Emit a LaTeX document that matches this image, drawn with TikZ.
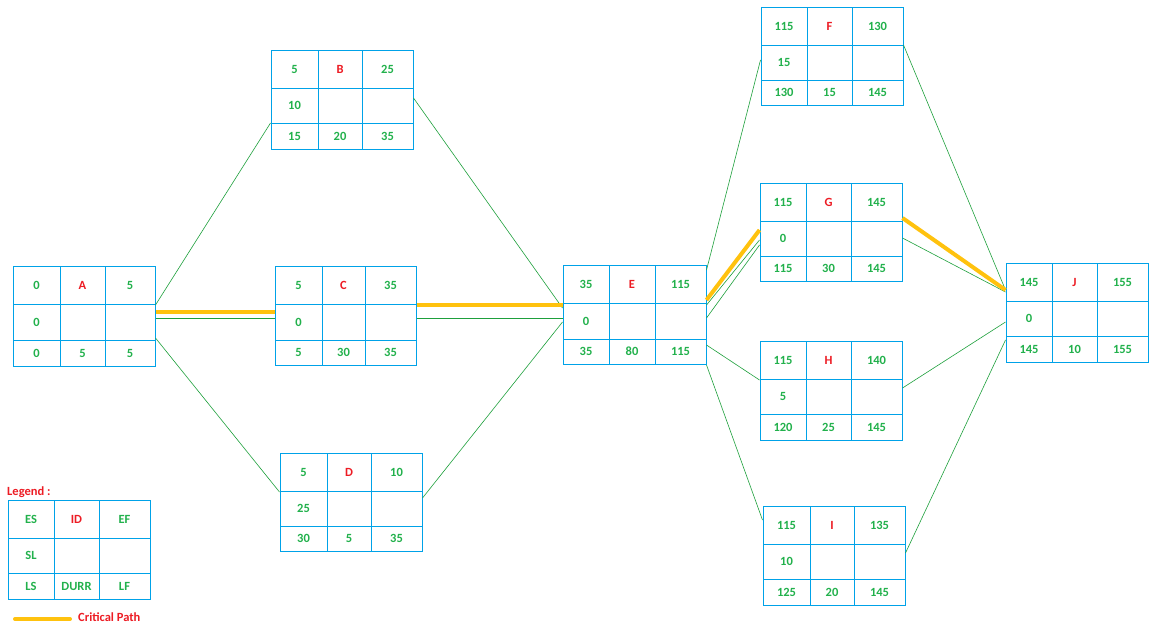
\documentclass[tikz,border=0pt]{standalone}
\usepackage{fontspec}
\setmainfont{Carlito}
\definecolor{bblue}{RGB}{0,162,232}
\definecolor{tgreen}{RGB}{34,177,76}
\definecolor{tred}{RGB}{237,28,36}
\definecolor{lgreen}{RGB}{30,160,60}
\definecolor{crit}{RGB}{255,194,14}
\newcommand\actbox[9]{%
\node[box,minimum width={(#4-#2)*1pt},minimum height={(#5-#3)*1pt}] (#1) at ({(#2+#4)/2},{(#3+#5)/2}) {};
\draw[boxline] (#6,#3)--(#6,#5) (#7,#3)--(#7,#5) (#2,#8)--(#4,#8) (#2,#9)--(#4,#9);
\coordinate (#1-11) at ({(#2+#6)/2},{(#3+#8)/2});
\coordinate (#1-12) at ({(#6+#7)/2},{(#3+#8)/2});
\coordinate (#1-13) at ({(#7+#4)/2},{(#3+#8)/2});
\coordinate (#1-21) at ({(#2+#6)/2},{(#8+#9)/2});
\coordinate (#1-31) at ({(#2+#6)/2},{(#9+#5)/2});
\coordinate (#1-32) at ({(#6+#7)/2},{(#9+#5)/2});
\coordinate (#1-33) at ({(#7+#4)/2},{(#9+#5)/2});}
\newcommand\vals[8]{%
\node[val] (#1-t11) at (#1-11) {#2};
\node[val,text=tred] (#1-t12) at (#1-12) {#3};
\node[val] (#1-t13) at (#1-13) {#4};
\node[val] (#1-t21) at (#1-21) {#5};
\node[val] (#1-t31) at (#1-31) {#6};
\node[val] (#1-t32) at (#1-32) {#7};
\node[val] (#1-t33) at (#1-33) {#8};}
\begin{document}
\begin{tikzpicture}[x=1pt,y=-1pt,
 box/.style={draw=bblue,line width=1pt,inner sep=0pt},
 boxline/.style={draw=bblue,line width=1pt},
 val/.style={text=tgreen,font=\fontsize{12.5}{14}\selectfont\bfseries,inner sep=0pt},
 edge/.style={draw=lgreen,line width=0.6pt},
 critical/.style={draw=crit,line width=4pt}]
\useasboundingbox[fill=white] (0,0) rectangle (1155,632);
\actbox{A}{13}{266}{155}{366}{60}{105}{304}{340}
\actbox{B}{271}{50}{413}{149}{318}{362}{88}{123}
\actbox{C}{275}{266}{416}{365}{322}{365}{304}{340}
\actbox{D}{280}{453}{422}{551}{327}{371}{491}{526}
\actbox{E}{563}{265}{706}{364}{609}{655}{303}{339}
\actbox{F}{761}{7}{903}{105}{807}{852}{45}{80}
\actbox{G}{760}{183}{902}{281}{806}{851}{221}{256}
\actbox{H}{760}{341}{902}{440}{806}{851}{379}{414}
\actbox{I}{763}{506}{905}{605}{810}{854}{544}{579}
\actbox{J}{1006}{263}{1148}{362}{1052}{1097}{301}{336}
\actbox{L}{8}{500}{150}{599}{54}{99}{538}{573}
\vals{A}{0}{A}{5}{0}{0}{5}{5}
\vals{B}{5}{B}{25}{10}{15}{20}{35}
\vals{C}{5}{C}{35}{0}{5}{30}{35}
\vals{D}{5}{D}{10}{25}{30}{5}{35}
\vals{E}{35}{E}{115}{0}{35}{80}{115}
\vals{F}{115}{F}{130}{15}{130}{15}{145}
\vals{G}{115}{G}{145}{0}{115}{30}{145}
\vals{H}{115}{H}{140}{5}{120}{25}{145}
\vals{I}{115}{I}{135}{10}{125}{20}{145}
\vals{J}{145}{J}{155}{0}{145}{10}{155}
\vals{L}{ES}{ID}{EF}{SL}{LS}{DURR}{LF}
\node[val,text=tred,anchor=west] (legend) at (7,492) {Legend :};
\coordinate (cp1) at (15,619);
\coordinate (cp2) at (70,619);
\draw[critical,line cap=round] (cp1)--(cp2);
\node[val,text=tred,anchor=west] (cpt) at (78,617) {Critical Path};
% edges
\draw[edge] ([yshift=11pt]A.east)--([yshift=-23.5pt]B.west);
\draw[edge] ([yshift=-2pt]A.east)--([yshift=-2.5pt]C.west);
\draw[edge] ([yshift=-22pt]A.east)--([yshift=10pt]D.west);
\draw[edge] ([yshift=1.5pt]B.east)--([yshift=6.5pt]E.west);
\draw[edge] ([yshift=-2.5pt]C.east)--([yshift=-3.5pt]E.west);
\draw[edge] ([yshift=4pt]D.east)--([yshift=-7.5pt]E.west);
\draw[edge] ([yshift=44.5pt]E.east)--([yshift=-4pt]F.west);
\draw[edge] ([yshift=9.5pt]E.east)--([yshift=-8pt]G.west);
\draw[edge] ([yshift=-3.5pt]E.east)--([yshift=-13pt]G.west);
\draw[edge] ([yshift=-30.5pt]E.east)--([yshift=10.5pt]H.west);
\draw[edge] ([yshift=-50.5pt]E.east)--([yshift=35.5pt]I.west);
\draw[edge] ([yshift=11pt]F.east)--([yshift=22.5pt]J.west);
\draw[edge] ([yshift=-6pt]G.east)--([yshift=20.5pt]J.west);
\draw[edge] ([yshift=2.5pt]H.east)--([yshift=-9.5pt]J.west);
\draw[edge] ([yshift=2.5pt]I.east)--([yshift=-27.5pt]J.west);
% critical path
\draw[critical] ([yshift=4pt]A.east)--([yshift=3.5pt]C.west);
\draw[critical] ([yshift=10.5pt]C.east)--([yshift=9.5pt]E.west);
\draw[critical] ([yshift=14.5pt]E.east)--([yshift=2pt]G.west);
\draw[critical] ([yshift=14pt]G.east)--([yshift=22.5pt]J.west);
\end{tikzpicture}
\end{document}
